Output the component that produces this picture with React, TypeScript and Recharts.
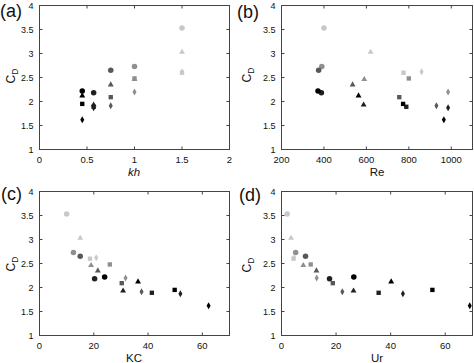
import { Cell, Scatter, ScatterChart, Symbols, XAxis, YAxis } from "recharts"

// one entry per wave case, ordered kh = 1.5, 1.0, 0.75, 0.57, 0.45 (light -> black)
const SHADES = ["#c8c8c8", "#8f8f8f", "#585858", "#202020", "#000000"]

const KH = [1.5, 1.0, 0.75, 0.57, 0.45]

const CD_CIRCLE = [3.53, 2.73, 2.65, 2.18, 2.22]
const CD_TRIANGLE = [3.03, 2.46, 2.35, 1.93, 2.12]
const CD_SQUARE = [2.6, 2.48, 2.09, 1.89, 1.95]
const CD_DIAMOND = [2.62, 2.2, 1.91, 1.87, 1.62]

const RE_CIRCLE = [400, 390, 375, 388, 372]
const RE_TRIANGLE = [620, 590, 535, 587, 563]
const RE_SQUARE = [775, 800, 755, 788, 773]
const RE_DIAMOND = [860, 985, 930, 985, 965]

const KC_CIRCLE = [10, 12.5, 15, 20.3, 24]
const KC_TRIANGLE = [15, 19, 21.5, 30.8, 36.3]
const KC_SQUARE = [18.6, 25.9, 30.3, 41.4, 49.8]
const KC_DIAMOND = [20.9, 31.7, 37.6, 51.9, 62.3]

const UR_CIRCLE = [2.1, 5.2, 8.8, 17.6, 26.5]
const UR_TRIANGLE = [3.5, 8.0, 12.8, 26.4, 40.2]
const UR_SQUARE = [4.4, 10.7, 18.8, 35.6, 55.3]
const UR_DIAMOND = [4.6, 12.9, 22.3, 44.5, 69]

const Y_DOMAIN: [number, number] = [1, 4]
const Y_TICKS = [1, 1.5, 2, 2.5, 3, 3.5, 4]
const KH_TICKS = [0, 0.5, 1, 1.5, 2]
const RE_TICKS = [200, 400, 600, 800, 1000]
const KC_TICKS = [0, 20, 40, 60]
const UR_TICKS = [0, 20, 40, 60]

const FONT = "'Liberation Sans', Arial, Helvetica, sans-serif"
const FRAME = "#444444"
const TICK_LEN = 3
const X_AXIS_H = 20
const Y_AXIS_W = 30

const toPoints = (xs: number[], ys: number[]) => xs.map((x, i) => ({ x, y: ys[i] }))

const SHAPES = [
  { type: "circle", size: 24, ys: CD_CIRCLE },
  { type: "triangle", size: 15, ys: CD_TRIANGLE },
  { type: "square", size: 19, ys: CD_SQUARE },
  { type: "diamond", size: 14, ys: CD_DIAMOND },
] as const

type Box = { top: number; right: number; bottom: number; left: number }

interface PanelProps {
  left: number
  top: number
  width: number
  height: number
  plot: Box // plot edges inside the panel box
  xDomain: [number, number]
  xTicks: number[]
  xs: number[][]
}

const bottomTick = (p: any) => (
  <text x={p.x} y={p.y + 13} textAnchor="middle" fontSize={9.5} fontFamily={FONT} fill="#111">
    {String(p.payload.value)}
  </text>
)
const leftTick = (p: any) => (
  <text x={p.x - 6} y={p.y + 3.3} textAnchor="end" fontSize={9} fontFamily={FONT} fill="#111">
    {String(p.payload.value)}
  </text>
)

function Panel({ left, top, width, height, plot, xDomain, xTicks, xs }: PanelProps) {
  const margin = {
    top: plot.top,
    left: plot.left - Y_AXIS_W,
    right: width - plot.right,
    bottom: height - plot.bottom - X_AXIS_H,
  }
  return (
    <div style={{ position: "absolute", left, top, width, height }}>
      <ScatterChart width={width} height={height} margin={margin}>
        <XAxis
          xAxisId="b"
          type="number"
          dataKey="x"
          domain={xDomain}
          ticks={xTicks}
          interval={0}
          height={X_AXIS_H}
          tickSize={0}
          tickMargin={0}
          tickLine={false}
          axisLine={false}
          tick={bottomTick}
        />
        <YAxis
          yAxisId="l"
          type="number"
          dataKey="y"
          domain={Y_DOMAIN}
          ticks={Y_TICKS}
          interval={0}
          width={Y_AXIS_W}
          tickSize={0}
          tickMargin={0}
          tickLine={false}
          axisLine={false}
          tick={leftTick}
        />
        {SHAPES.map((s, k) => (
          <Scatter
            key={s.type}
            xAxisId="b"
            yAxisId="l"
            data={toPoints(xs[k], s.ys)}
            isAnimationActive={false}
            shape={(p: any) => <Symbols cx={p.cx} cy={p.cy} type={s.type} size={s.size} fill={p.fill} />}
          >
            {s.ys.map((_, i) => (
              <Cell key={i} fill={SHADES[i]} />
            ))}
          </Scatter>
        ))}
      </ScatterChart>
    </div>
  )
}

// matlab-style box with inward ticks on all four sides
function Frame({ left, top, plot, xDomain, xTicks }: { left: number; top: number; plot: Box; xDomain: [number, number]; xTicks: number[] }) {
  const x0 = left + plot.left
  const x1 = left + plot.right
  const y0 = top + plot.top
  const y1 = top + plot.bottom
  const sx = (v: number) => x0 + ((v - xDomain[0]) / (xDomain[1] - xDomain[0])) * (x1 - x0)
  const sy = (v: number) => y1 - ((v - Y_DOMAIN[0]) / (Y_DOMAIN[1] - Y_DOMAIN[0])) * (y1 - y0)
  return (
    <g stroke={FRAME} strokeWidth={1} fill="none">
      <rect x={x0} y={y0} width={x1 - x0} height={y1 - y0} />
      {xTicks.map((t) => (
        <g key={`x${t}`}>
          <line x1={sx(t)} y1={y1} x2={sx(t)} y2={y1 - TICK_LEN} />
          <line x1={sx(t)} y1={y0} x2={sx(t)} y2={y0 + TICK_LEN} />
        </g>
      ))}
      {Y_TICKS.map((t) => (
        <g key={`y${t}`}>
          <line x1={x0} y1={sy(t)} x2={x0 + TICK_LEN} y2={sy(t)} />
          <line x1={x1} y1={sy(t)} x2={x1 - TICK_LEN} y2={sy(t)} />
        </g>
      ))}
    </g>
  )
}

function CdLabel({ x, y }: { x: number; y: number }) {
  return (
    <text transform={`translate(${x},${y}) rotate(-90)`} textAnchor="middle" fontSize={12} fontFamily={FONT} fill="#111">
      C<tspan fontSize={8.5} dy={3}>D</tspan>
    </text>
  )
}

const PANELS = [
  { left: 0, top: 0, width: 237, height: 180, plot: { top: 5.5, right: 229.5, bottom: 149.5, left: 39.5 }, xDomain: [0, 2] as [number, number], xTicks: KH_TICKS, xs: [KH, KH, KH, KH] },
  { left: 237, top: 0, width: 237, height: 180, plot: { top: 5.5, right: 235.5, bottom: 149.5, left: 44.5 }, xDomain: [200, 1100] as [number, number], xTicks: RE_TICKS, xs: [RE_CIRCLE, RE_TRIANGLE, RE_SQUARE, RE_DIAMOND] },
  { left: 0, top: 180, width: 237, height: 183, plot: { top: 11.5, right: 229.5, bottom: 155.5, left: 39.5 }, xDomain: [0, 70] as [number, number], xTicks: KC_TICKS, xs: [KC_CIRCLE, KC_TRIANGLE, KC_SQUARE, KC_DIAMOND] },
  { left: 237, top: 180, width: 237, height: 183, plot: { top: 11.5, right: 235.5, bottom: 155.5, left: 44.5 }, xDomain: [0, 70] as [number, number], xTicks: UR_TICKS, xs: [UR_CIRCLE, UR_TRIANGLE, UR_SQUARE, UR_DIAMOND] },
]

export default function App() {
  return (
    <div style={{ position: "absolute", left: 0, top: 0, width: 474, height: 363, background: "#fff" }}>
      {PANELS.map((p, i) => (
        <Panel key={i} {...p} />
      ))}
      <svg width={474} height={363} style={{ position: "absolute", left: 0, top: 0, pointerEvents: "none" }}>
        {PANELS.map((p, i) => (
          <Frame key={i} left={p.left} top={p.top} plot={p.plot} xDomain={p.xDomain} xTicks={p.xTicks} />
        ))}
        <g fontFamily={FONT} fill="#111">
          <text x={0} y={17} fontSize={18}>(a)</text>
          <text x={237} y={18} fontSize={18}>(b)</text>
          <text x={1} y={200} fontSize={18}>(c)</text>
          <text x={239} y={201} fontSize={18}>(d)</text>
          <text x={134} y={176} fontSize={11.5} fontStyle="italic" textAnchor="middle">kh</text>
          <text x={377} y={176} fontSize={11.5} textAnchor="middle">Re</text>
          <text x={134} y={362} fontSize={11.5} textAnchor="middle">KC</text>
          <text x={377} y={362} fontSize={11.5} textAnchor="middle">Ur</text>
        </g>
        <CdLabel x={14.5} y={76} />
        <CdLabel x={251} y={75} />
        <CdLabel x={14.5} y={264} />
        <CdLabel x={251} y={265} />
      </svg>
    </div>
  )
}
